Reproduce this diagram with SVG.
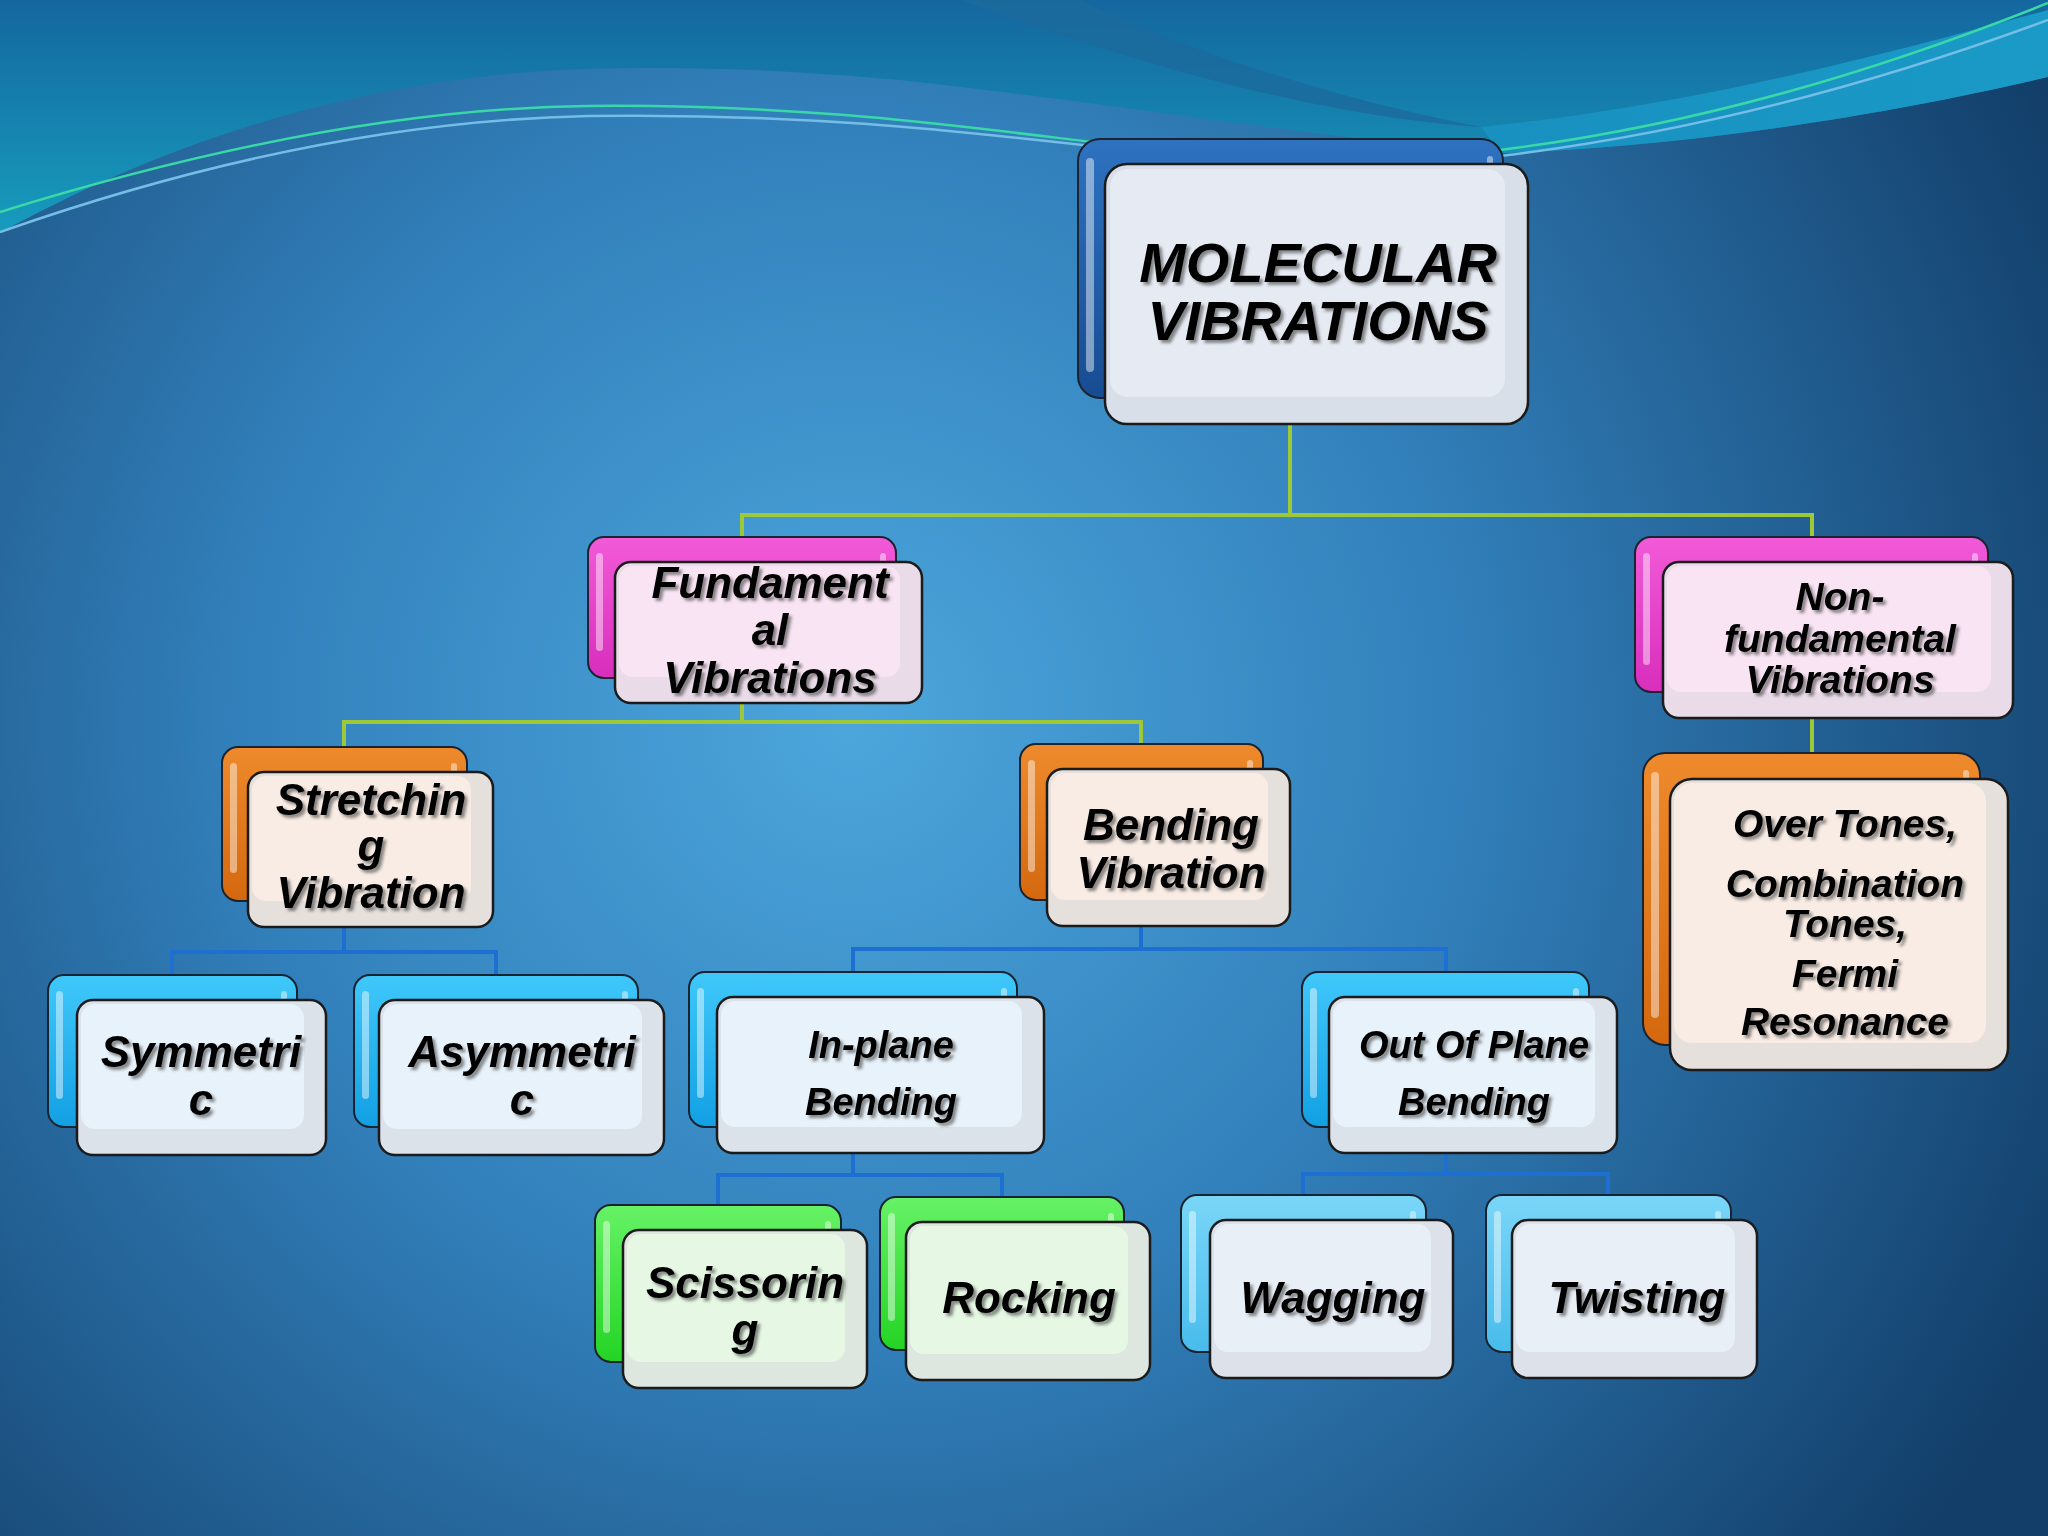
<svg xmlns="http://www.w3.org/2000/svg" width="2048" height="1536" viewBox="0 0 2048 1536">
<defs>
<radialGradient id="bg" gradientUnits="userSpaceOnUse" cx="850" cy="720" r="1350">
<stop offset="0" stop-color="#4ca6dc"/>
<stop offset="0.45" stop-color="#3280bb"/>
<stop offset="1" stop-color="#123e69"/>
</radialGradient>
<linearGradient id="topg" x1="0" y1="0" x2="0" y2="1">
<stop offset="0" stop-color="#14679f"/>
<stop offset="1" stop-color="#179cbc"/>
</linearGradient>
<linearGradient id="bandg" x1="0" y1="0" x2="1" y2="0">
<stop offset="0" stop-color="#1890c0"/>
<stop offset="1" stop-color="#1a9ac6"/>
</linearGradient>
<linearGradient id="gRoot" x1="0" y1="0" x2="0" y2="1"><stop offset="0" stop-color="#2e72c0"/><stop offset="1" stop-color="#174c92"/></linearGradient>
<linearGradient id="gMag" x1="0" y1="0" x2="0" y2="1"><stop offset="0" stop-color="#f25ad8"/><stop offset="1" stop-color="#d82ebc"/></linearGradient>
<linearGradient id="gOrg" x1="0" y1="0" x2="0" y2="1"><stop offset="0" stop-color="#ee8a2c"/><stop offset="1" stop-color="#d4680f"/></linearGradient>
<linearGradient id="gCy" x1="0" y1="0" x2="0" y2="1"><stop offset="0" stop-color="#40c8fa"/><stop offset="1" stop-color="#12a0e4"/></linearGradient>
<linearGradient id="gGr" x1="0" y1="0" x2="0" y2="1"><stop offset="0" stop-color="#66f266"/><stop offset="1" stop-color="#24d424"/></linearGradient>
<linearGradient id="gLb" x1="0" y1="0" x2="0" y2="1"><stop offset="0" stop-color="#7ad6f8"/><stop offset="1" stop-color="#48bcec"/></linearGradient>
<filter id="ts" x="-10%" y="-20%" width="120%" height="150%">
<feDropShadow dx="3" dy="3" stdDeviation="1.5" flood-color="#333" flood-opacity="0.55"/>
</filter>
</defs>
<style>
.back{stroke:#1a2330;stroke-width:2}
.front{stroke:#1b1b1b;stroke-width:2.5}
.hl{fill:#ffffff;opacity:0.45}
.t{font-family:"Liberation Sans",Arial,sans-serif;font-weight:bold;font-style:italic;fill:#000;text-anchor:middle;filter:url(#ts)}
.c1{fill:none;stroke:#9cc83a;stroke-width:4}
.c2{fill:none;stroke:#1e6fd2;stroke-width:4}
.root .back{fill:url(#gRoot)} .root .front{fill:#d9dfe9} .root .inner{fill:#e6ebf3}
.mag .back{fill:url(#gMag)} .mag .front{fill:#e9dbe8} .mag .inner{fill:#f9e4f4}
.org .back{fill:url(#gOrg)} .org .front{fill:#e6e0dc} .org .inner{fill:#f8ece4}
.cy .back{fill:url(#gCy)} .cy .front{fill:#dce2ea} .cy .inner{fill:#e8f2fa}
.gr .back{fill:url(#gGr)} .gr .front{fill:#dde6df} .gr .inner{fill:#e6f8e4}
.lb .back{fill:url(#gLb)} .lb .front{fill:#dde2ea} .lb .inner{fill:#e9eff7}
</style>

<!-- background -->
<rect x="0" y="0" width="2048" height="1536" fill="url(#bg)"/>
<path d="M0,0 H2048 V77 C1900,112 1700,146 1501,153 C1350,142 1100,102 900,80 C780,70 700,66 588,69 C350,76 150,150 0,233 Z" fill="url(#topg)"/>
<path d="M960,0 C1100,50 1300,116 1481,127 C1300,92 1150,34 1080,0 Z" fill="#1c6a9c" opacity="0.8"/>
<path d="M1481,127 C1700,105 1900,50 2048,10 V77 C1900,112 1700,146 1501,153 Z" fill="url(#bandg)"/>
<path d="M0,212 C200,150 400,108 588,106 C800,104 950,125 1100,143 L1500,150 C1700,125 1880,70 2048,3" fill="none" stroke="#3ad8a8" stroke-width="2.5"/>
<path d="M0,232 C200,162 400,120 588,116 C800,113 950,130 1100,147 L1500,156 C1700,132 1880,82 2048,20" fill="none" stroke="#74bde6" stroke-width="2.5"/>

<!-- connectors -->
<g id="connectors">
<path class="c1" d="M1290,398 V515 M742,515 H1812 M742,513 V537 M1812,513 V537"/>
<path class="c1" d="M742,678 V722 M344,722 H1141 M344,720 V747 M1141,720 V744"/>
<path class="c1" d="M1812,692 V753"/>
<path class="c2" d="M344,901 V952 M172,952 H496 M172,950 V975 M496,950 V975"/>
<path class="c2" d="M1141,900 V949 M853,949 H1446 M853,947 V972 M1446,947 V972"/>
<path class="c2" d="M853,1127 V1175 M718,1175 H1002 M718,1173 V1205 M1002,1173 V1197"/>
<path class="c2" d="M1446,1127 V1174 M1303,1174 H1608 M1303,1172 V1195 M1608,1172 V1195"/>
</g>

<g id="n-root" class="root">
<rect class="back" x="1078" y="139" width="425" height="259" rx="22"/>
<rect class="hl" x="1086" y="158" width="8" height="214" rx="4"/>
<rect class="hl" x="1487" y="156" width="6" height="30" rx="3"/>
<rect class="front" x="1105" y="164" width="423" height="260" rx="22"/>
<rect class="inner" x="1110" y="169" width="395" height="228" rx="18"/>
<text class="t" font-size="56"><tspan x="1318" y="282">MOLECULAR</tspan><tspan x="1318" y="340">VIBRATIONS</tspan></text>
</g>

<g id="n-fund" class="mag">
<rect class="back" x="588" y="537" width="308" height="141" rx="16"/>
<rect class="hl" x="596" y="553" width="7" height="98" rx="3.5"/>
<rect class="hl" x="880" y="553" width="6" height="20" rx="3"/>
<rect class="front" x="615" y="562" width="307" height="141" rx="16"/>
<rect class="inner" x="619" y="566" width="281" height="111" rx="14"/>
<text class="t" font-size="44"><tspan x="770" y="598">Fundament</tspan><tspan x="770" y="645">al</tspan><tspan x="770" y="693">Vibrations</tspan></text>
</g>

<g id="n-nonfund" class="mag">
<rect class="back" x="1635" y="537" width="353" height="155" rx="16"/>
<rect class="hl" x="1643" y="553" width="7" height="112" rx="3.5"/>
<rect class="hl" x="1972" y="553" width="6" height="20" rx="3"/>
<rect class="front" x="1663" y="562" width="350" height="156" rx="16"/>
<rect class="inner" x="1667" y="566" width="324" height="126" rx="14"/>
<text class="t" font-size="39"><tspan x="1840" y="610">Non-</tspan><tspan x="1840" y="652">fundamental</tspan><tspan x="1840" y="693">Vibrations</tspan></text>
</g>

<g id="n-stretch" class="org">
<rect class="back" x="222" y="747" width="245" height="154" rx="16"/>
<rect class="hl" x="230" y="763" width="7" height="110" rx="3.5"/>
<rect class="hl" x="451" y="763" width="6" height="20" rx="3"/>
<rect class="front" x="248" y="772" width="245" height="155" rx="16"/>
<rect class="inner" x="252" y="776" width="219" height="125" rx="14"/>
<text class="t" font-size="44"><tspan x="371" y="815">Stretchin</tspan><tspan x="371" y="861">g</tspan><tspan x="371" y="908">Vibration</tspan></text>
</g>

<g id="n-bend" class="org">
<rect class="back" x="1020" y="744" width="243" height="156" rx="16"/>
<rect class="hl" x="1028" y="760" width="7" height="112" rx="3.5"/>
<rect class="hl" x="1247" y="760" width="6" height="20" rx="3"/>
<rect class="front" x="1047" y="769" width="243" height="157" rx="16"/>
<rect class="inner" x="1051" y="773" width="217" height="127" rx="14"/>
<text class="t" font-size="44"><tspan x="1171" y="840">Bending</tspan><tspan x="1171" y="888">Vibration</tspan></text>
</g>

<g id="n-over" class="org">
<rect class="back" x="1643" y="753" width="337" height="292" rx="22"/>
<rect class="hl" x="1651" y="772" width="8" height="246" rx="4"/>
<rect class="hl" x="1963" y="770" width="6" height="22" rx="3"/>
<rect class="front" x="1670" y="779" width="338" height="291" rx="22"/>
<rect class="inner" x="1674" y="783" width="312" height="260" rx="18"/>
<text class="t" font-size="39"><tspan x="1845" y="837">Over Tones,</tspan><tspan x="1845" y="897">Combination</tspan><tspan x="1845" y="937">Tones,</tspan><tspan x="1845" y="987">Fermi</tspan><tspan x="1845" y="1035">Resonance</tspan></text>
</g>

<g id="n-sym" class="cy">
<rect class="back" x="48" y="975" width="249" height="152" rx="16"/>
<rect class="hl" x="56" y="991" width="7" height="108" rx="3.5"/>
<rect class="hl" x="281" y="991" width="6" height="20" rx="3"/>
<rect class="front" x="77" y="1000" width="249" height="155" rx="16"/>
<rect class="inner" x="81" y="1004" width="223" height="125" rx="14"/>
<text class="t" font-size="44"><tspan x="201" y="1067">Symmetri</tspan><tspan x="201" y="1115">c</tspan></text>
</g>

<g id="n-asym" class="cy">
<rect class="back" x="354" y="975" width="284" height="152" rx="16"/>
<rect class="hl" x="362" y="991" width="7" height="108" rx="3.5"/>
<rect class="hl" x="622" y="991" width="6" height="20" rx="3"/>
<rect class="front" x="379" y="1000" width="285" height="155" rx="16"/>
<rect class="inner" x="383" y="1004" width="259" height="125" rx="14"/>
<text class="t" font-size="44"><tspan x="522" y="1067">Asymmetri</tspan><tspan x="522" y="1115">c</tspan></text>
</g>

<g id="n-inplane" class="cy">
<rect class="back" x="689" y="972" width="328" height="155" rx="16"/>
<rect class="hl" x="697" y="988" width="7" height="110" rx="3.5"/>
<rect class="hl" x="1001" y="988" width="6" height="20" rx="3"/>
<rect class="front" x="717" y="997" width="327" height="156" rx="16"/>
<rect class="inner" x="721" y="1001" width="301" height="126" rx="14"/>
<text class="t" font-size="38"><tspan x="881" y="1058">In-plane</tspan><tspan x="881" y="1115">Bending</tspan></text>
</g>

<g id="n-outplane" class="cy">
<rect class="back" x="1302" y="972" width="287" height="155" rx="16"/>
<rect class="hl" x="1310" y="988" width="7" height="110" rx="3.5"/>
<rect class="hl" x="1573" y="988" width="6" height="20" rx="3"/>
<rect class="front" x="1329" y="997" width="288" height="156" rx="16"/>
<rect class="inner" x="1333" y="1001" width="262" height="126" rx="14"/>
<text class="t" font-size="38"><tspan x="1474" y="1058">Out Of Plane</tspan><tspan x="1474" y="1115">Bending</tspan></text>
</g>

<g id="n-sciss" class="gr">
<rect class="back" x="595" y="1205" width="246" height="157" rx="16"/>
<rect class="hl" x="603" y="1221" width="7" height="112" rx="3.5"/>
<rect class="hl" x="825" y="1221" width="6" height="20" rx="3"/>
<rect class="front" x="623" y="1230" width="244" height="158" rx="16"/>
<rect class="inner" x="627" y="1234" width="218" height="128" rx="14"/>
<text class="t" font-size="44"><tspan x="745" y="1298">Scissorin</tspan><tspan x="745" y="1345">g</tspan></text>
</g>

<g id="n-rock" class="gr">
<rect class="back" x="880" y="1197" width="244" height="153" rx="16"/>
<rect class="hl" x="888" y="1213" width="7" height="108" rx="3.5"/>
<rect class="hl" x="1108" y="1213" width="6" height="20" rx="3"/>
<rect class="front" x="906" y="1222" width="244" height="158" rx="16"/>
<rect class="inner" x="910" y="1226" width="218" height="128" rx="14"/>
<text class="t" font-size="44"><tspan x="1029" y="1313">Rocking</tspan></text>
</g>

<g id="n-wag" class="lb">
<rect class="back" x="1181" y="1195" width="245" height="157" rx="16"/>
<rect class="hl" x="1189" y="1211" width="7" height="112" rx="3.5"/>
<rect class="hl" x="1410" y="1211" width="6" height="20" rx="3"/>
<rect class="front" x="1210" y="1220" width="243" height="158" rx="16"/>
<rect class="inner" x="1214" y="1224" width="217" height="128" rx="14"/>
<text class="t" font-size="44"><tspan x="1333" y="1313">Wagging</tspan></text>
</g>

<g id="n-twist" class="lb">
<rect class="back" x="1486" y="1195" width="245" height="157" rx="16"/>
<rect class="hl" x="1494" y="1211" width="7" height="112" rx="3.5"/>
<rect class="hl" x="1715" y="1211" width="6" height="20" rx="3"/>
<rect class="front" x="1512" y="1220" width="245" height="158" rx="16"/>
<rect class="inner" x="1516" y="1224" width="219" height="128" rx="14"/>
<text class="t" font-size="44"><tspan x="1637" y="1313">Twisting</tspan></text>
</g>
</svg>
